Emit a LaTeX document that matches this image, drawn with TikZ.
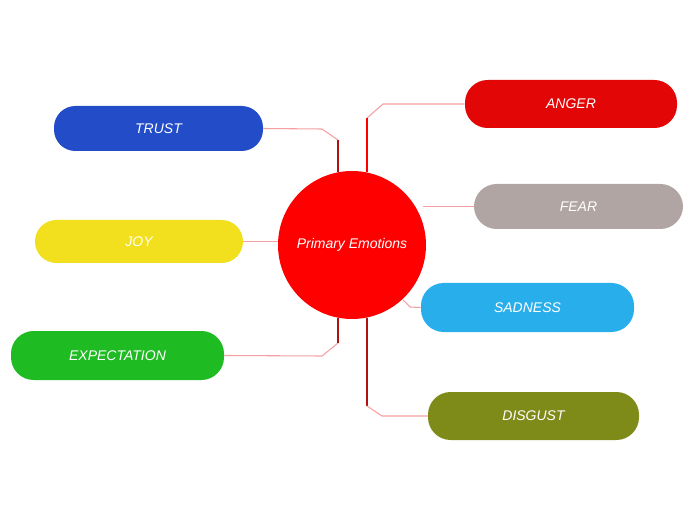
\documentclass[tikz,border=0pt]{standalone}
\usepackage{fontspec}
\setmainfont{Liberation Sans}
\definecolor{ctrust}{HTML}{234CC8}
\definecolor{canger}{HTML}{E30606}
\definecolor{cfear}{HTML}{B0A5A3}
\definecolor{cjoy}{HTML}{F2E01E}
\definecolor{csad}{HTML}{29AEEC}
\definecolor{cexp}{HTML}{1EBB23}
\definecolor{cdis}{HTML}{7E8B18}
\definecolor{cpink}{HTML}{F4A0A0}
\definecolor{cdark}{HTML}{B01010}
\begin{document}
\begin{tikzpicture}[x=0.75pt,y=-0.75pt,
  pill/.style={rounded corners=17pt,inner sep=0pt,text=white,font=\itshape\fontsize{10.5}{12}\selectfont},
  thin/.style={draw=cpink,line width=0.8pt},
  thick/.style={draw=cdark,line width=1.6pt}]
\useasboundingbox (0,0) rectangle (696,520);
\node[circle,fill=red,minimum size=111pt,inner sep=0pt,text=white,font=\itshape\fontsize{10.5}{12}\selectfont] (c) at (352,245) {Primary Emotions};
\newcommand\pillnode[6]{\fill[#5,rounded corners=16.5pt] (#1,#2) rectangle (#3,#4); \node[pill] (#6) at ({(#1+#3)/2},{(#2+#4)/2}) {};}
\fill[ctrust,rounded corners=16pt] (54,106) rectangle (263,151);
\node[pill,minimum width=157pt,minimum height=34pt] (trust) at (158.5,128.5) {TRUST};
\fill[canger,rounded corners=17pt] (465,80) rectangle (677,128);
\node[pill,minimum width=159pt,minimum height=36pt] (anger) at (571,104) {ANGER};
\fill[cfear,rounded corners=17pt] (474,184) rectangle (683,229);
\node[pill,minimum width=157pt,minimum height=34pt] (fear) at (578.5,206.5) {FEAR};
\fill[cjoy,rounded corners=16pt] (35,220) rectangle (243,263);
\node[pill,minimum width=156pt,minimum height=32pt] (joy) at (139,241.5) {JOY};
\fill[csad,rounded corners=17pt] (421,283) rectangle (634,332);
\node[pill,minimum width=160pt,minimum height=37pt] (sad) at (527.5,307.5) {SADNESS};
\fill[cexp,rounded corners=17pt] (11,331) rectangle (224,380);
\node[pill,minimum width=160pt,minimum height=37pt] (exp) at (117.5,355.5) {EXPECTATION};
\fill[cdis,rounded corners=17pt] (428,392) rectangle (639,440);
\node[pill,minimum width=158pt,minimum height=36pt] (dis) at (533.5,416) {DISGUST};
% connectors
\draw[thin] (trust.east) -- (322,129) -- (338,140);
\draw[thick] (338,140) -- (338,172);
\draw[thin] (anger.west) -- (383,104) -- (367,118);
\draw[thick,draw=red] (367,118) -- (367,172);
\draw[thin] (c.east|-fear.west) ++(-3,0) -- (fear.west);
\draw[thin] (c.west|-joy.east) -- (joy.east);
\draw[thin] (403,300) -- (410,307) -- (sad.west);
\draw[thin] (exp.east) -- (322,356) -- (338,343);
\draw[thick] (338,343) -- (338,318);
\draw[thick] (367,318) -- (367,406);
\draw[thin] (367,406) -- (382,416) -- (dis.west);
\end{tikzpicture}
\end{document}
